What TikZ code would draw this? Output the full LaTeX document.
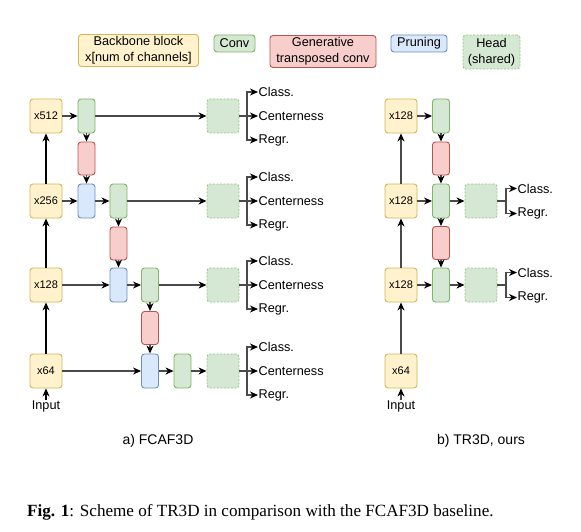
\documentclass[tikz,border=0pt]{standalone}
\usepackage{fontspec}
\setmainfont{Liberation Serif}
\newfontfamily\lsans{Liberation Sans}
\usetikzlibrary{arrows.meta}
\definecolor{yfill}{HTML}{FFF2CC}\definecolor{ydraw}{HTML}{D6B656}
\definecolor{gfill}{HTML}{D5E8D4}\definecolor{gdraw}{HTML}{82B366}
\definecolor{rfill}{HTML}{F8CECC}\definecolor{rdraw}{HTML}{B85450}
\definecolor{bfill}{HTML}{DAE8FC}\definecolor{bdraw}{HTML}{6C8EBF}
\definecolor{lgray}{HTML}{4A4A4A}
\tikzset{
  box/.style={rounded corners=3pt, line width=0.9pt, inner sep=0pt, font=\lsans\fontsize{11}{13}\selectfont},
  bbox/.style={box, fill=yfill, draw=ydraw, minimum width=32pt, minimum height=34pt},
  cbox/.style={box, fill=gfill, draw=gdraw, minimum width=17pt, minimum height=34pt},
  tbox/.style={box, fill=rfill, draw=rdraw, minimum width=17pt, minimum height=33pt},
  pbox/.style={box, fill=bfill, draw=bdraw, minimum width=17pt, minimum height=34pt},
  hbox/.style={box, fill=gfill, draw=gdraw!80, dashed, dash pattern=on 2pt off 1.5pt, minimum width=32pt, minimum height=34pt},
  lab/.style={font=\lsans\fontsize{12.7}{16}\selectfont, inner sep=0.5pt, anchor=west},
  leg/.style={rounded corners=3pt, line width=0.9pt, inner sep=0pt, align=center, font=\lsans\fontsize{12.7}{16}\selectfont},
  conn/.style={draw=lgray, line width=1.1pt, -{Stealth[length=8pt,width=7pt,inset=2.5pt,color=black]}},
  plain/.style={draw=lgray, line width=1.1pt},
}
\begin{document}
\begin{tikzpicture}[x=1pt,y=-1pt]
\useasboundingbox (0,0) rectangle (581,532);
% legend
\node[leg, fill=yfill, draw=ydraw, minimum width=120pt, minimum height=32pt] (lbb) at (138.5,50.5) {Backbone block\\x[num of channels]};
\node[leg, fill=gfill, draw=gdraw, minimum width=41pt, minimum height=17pt] (lcv) at (234.5,43.5) {Conv};
\node[leg, fill=rfill, draw=rdraw, minimum width=106pt, minimum height=32pt] (ltc) at (323,51.5) {Generative\\transposed conv};
\node[leg, fill=bfill, draw=bdraw, minimum width=56pt, minimum height=17pt] (lpr) at (419,43.5) {Pruning};
\node[leg, fill=gfill, draw=gdraw!80, dashed, dash pattern=on 2pt off 1.5pt, minimum width=57pt, minimum height=34pt] (lhd) at (491.5,52) {Head\\(shared)};

% ---------- left diagram ----------
\node[bbox] (b512) at (46,116) {x512};
\node[bbox] (b256) at (46,201) {x256};
\node[bbox] (b128) at (46,285) {x128};
\node[bbox] (b64)  at (46,371) {x64};
\node[font=\lsans\fontsize{12.7}{16}\selectfont, inner sep=0.5pt] (in1) at (46,406) {Input};

\node[cbox] (g1) at (86.5,116) {};
\node[tbox] (r1) at (86.5,158.5) {};
\node[pbox] (p2) at (86.5,201) {};
\node[cbox] (g2) at (118.5,201) {};
\node[tbox] (r2) at (118.5,243.5) {};
\node[pbox] (p3) at (118.5,285) {};
\node[cbox] (g3) at (150,285) {};
\node[tbox] (r3) at (150,328) {};
\node[pbox] (p4) at (150,371) {};
\node[cbox] (g4) at (182.5,371) {};

\foreach \i/\y in {1/116,2/201,3/285,4/371}{
  \node[hbox] (h\i) at (223,\y) {};
  \coordinate (j\i) at (247,\y);
  \node[lab] (c\i) at (258,\y-24) {Class.};
  \node[lab] (e\i) at (258,\y) {Centerness};
  \node[lab] (q\i) at (258,\y+24) {Regr.};
  \draw[plain] (h\i.east) -- (j\i);
  \draw[conn] (j\i) |- (c\i.west);
  \draw[conn] (j\i) -- (e\i.west);
  \draw[conn] (j\i) |- (q\i.west);
}
% backbone
\draw[conn,draw=black] (in1.north) -- (b64.south);
\draw[conn,draw=black] (b64.north) -- (b128.south);
\draw[conn,draw=black] (b128.north) -- (b256.south);
\draw[conn,draw=black] (b256.north) -- (b512.south);
% row 1
\draw[conn] (b512.east) -- (g1.west);
\draw[conn] (g1.east) -- (h1.west);
\draw[conn] (g1.south) -- (r1.north);
\draw[conn] (r1.south) -- (p2.north);
% row 2
\draw[conn] (b256.east) -- (p2.west);
\draw[conn] (p2.east) -- (g2.west);
\draw[conn] (g2.east) -- (h2.west);
\draw[conn] (g2.south) -- (r2.north);
\draw[conn] (r2.south) -- (p3.north);
% row 3
\draw[conn] (b128.east) -- (p3.west);
\draw[conn] (p3.east) -- (g3.west);
\draw[conn] (g3.east) -- (h3.west);
\draw[conn] (g3.south) -- (r3.north);
\draw[conn] (r3.south) -- (p4.north);
% row 4
\draw[conn] (b64.east) -- (p4.west);
\draw[conn] (p4.east) -- (g4.west);
\draw[conn] (g4.east) -- (h4.west);

\node[font=\lsans\fontsize{14}{16}\selectfont] (ta) at (158,441) {a) FCAF3D};

% ---------- right diagram ----------
\node[bbox] (rb1) at (401,116) {x128};
\node[bbox] (rb2) at (401,201) {x128};
\node[bbox] (rb3) at (401,285) {x128};
\node[bbox] (rb4) at (401,371) {x64};
\node[font=\lsans\fontsize{12.7}{16}\selectfont, inner sep=0.5pt] (in2) at (401,406) {Input};
\node[cbox] (rg1) at (441,116) {};
\node[tbox] (rr1) at (441,158.5) {};
\node[cbox] (rg2) at (441,201) {};
\node[tbox] (rr2) at (441,243) {};
\node[cbox] (rg3) at (441,285) {};
\foreach \i/\y in {2/201,3/285}{
  \node[hbox] (rh\i) at (481,\y) {};
  \coordinate (rj\i) at (506,\y);
  \node[lab] (rc\i) at (517,\y-12.5) {Class.};
  \node[lab] (rq\i) at (517,\y+12.5) {Regr.};
  \draw[plain] (rh\i.east) -- (rj\i);
  \draw[conn] (rj\i) |- (rc\i.west);
  \draw[conn] (rj\i) |- (rq\i.west);
  \draw[conn] (rg\i.east) -- (rh\i.west);
}
\draw[conn] (in2.north) -- (rb4.south);
\draw[conn] (rb4.north) -- (rb3.south);
\draw[conn] (rb3.north) -- (rb2.south);
\draw[conn] (rb2.north) -- (rb1.south);
\draw[conn] (rb1.east) -- (rg1.west);
\draw[conn] (rb2.east) -- (rg2.west);
\draw[conn] (rb3.east) -- (rg3.west);
\draw[conn] (rg1.south) -- (rr1.north);
\draw[conn] (rr1.south) -- (rg2.north);
\draw[conn] (rg2.south) -- (rr2.north);
\draw[conn] (rr2.south) -- (rg3.north);

\node[font=\lsans\fontsize{14}{16}\selectfont] (tb) at (481,441) {b) TR3D, ours};

% caption
\node[anchor=west, inner sep=0pt, font=\fontsize{17.1}{20}\selectfont] (cap) at (27,512) {\textbf{Fig. 1}: Scheme of TR3D in comparison with the FCAF3D baseline.};
\end{tikzpicture}
\end{document}
